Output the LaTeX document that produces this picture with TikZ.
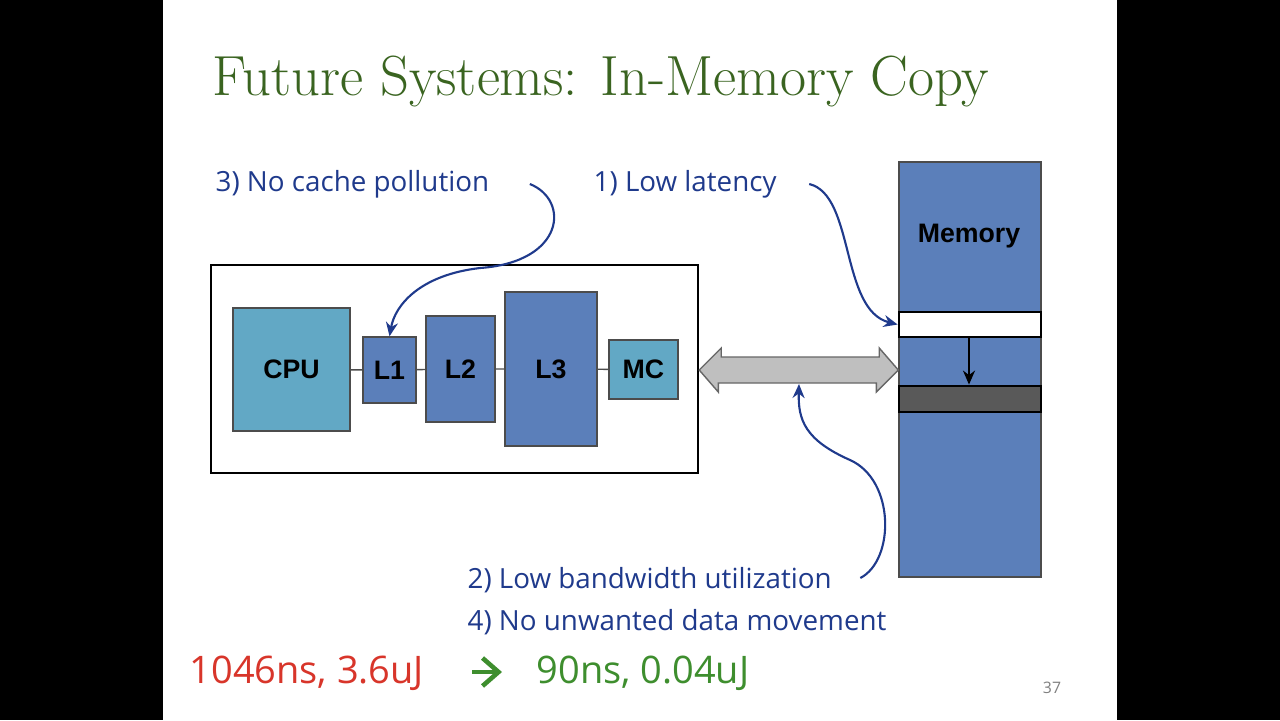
\documentclass[tikz,border=0pt]{standalone}
\usepackage{fontspec}
\newfontfamily\labelfont{Open Sans}
\newfontfamily\boxfont{Liberation Sans}
\usetikzlibrary{arrows.meta}
\definecolor{navy}{HTML}{1F3A8C}
\definecolor{teal}{HTML}{62A8C5}
\definecolor{memblue}{HTML}{5B7FBA}
\definecolor{titlegreen}{HTML}{3A6420}
\definecolor{cred}{HTML}{D8352A}
\definecolor{cgreen}{HTML}{3E8E2E}

\begin{document}
\begin{tikzpicture}[x=0.1mm, y=-0.1mm,
    unit/.style={draw=black!70, thin, font=\boxfont\bfseries\fontsize{7.6}{9}\selectfont, inner sep=0pt},
    note/.style={navy, font=\labelfont\fontsize{7.9}{9}\selectfont, anchor=west, inner sep=0pt},
    callout/.style={-{Stealth[length=1.4mm, width=1.2mm]}, navy, line width=0.6pt},
]
% slide and side bars
\fill[black] (0,0) rectangle (1280,720);
\fill[white] (163,0) rectangle (1117,720);

% title
\node[titlegreen, font=\fontsize{16.1}{18}\selectfont, anchor=base west, inner sep=0pt] (title) at (212,95) {Future Systems: In-Memory Copy};

% processor chip
\node[draw, line width=0.7pt, minimum width=48.7mm, minimum height=20.8mm, inner sep=0pt] (chip) at (454.5,369) {};
\node[unit, fill=teal, minimum width=11.7mm, minimum height=12.3mm] (cpu) at (291.5,369.5) {CPU};
\node[unit, fill=memblue, minimum width=5.3mm, minimum height=6.6mm] (l1) at (389.5,370) {L1};
\node[unit, fill=memblue, minimum width=6.9mm, minimum height=10.6mm] (l2) at (460.5,369) {L2};
\node[unit, fill=memblue, minimum width=9.2mm, minimum height=15.4mm] (l3) at (551,369) {L3};
\node[unit, fill=teal, minimum width=6.9mm, minimum height=5.9mm] (mc) at (643.5,369.5) {MC};
\draw[black!70, thin] (cpu) -- (l1) -- (l2) -- (l3) -- (mc);

% memory
\node[unit, fill=memblue, minimum width=14.2mm, minimum height=41.5mm] (mem) at (970,369.5) {};
\node[font=\boxfont\bfseries\fontsize{7.6}{9}\selectfont] (memlabel) at (969,236) {Memory};
\node[draw, line width=0.8pt, fill=white, minimum width=14.2mm, minimum height=2.5mm, inner sep=0pt] (src) at (970,324.5) {};
\node[draw, line width=0.8pt, fill=black!65, minimum width=14.2mm, minimum height=2.6mm, inner sep=0pt] (dst) at (970,399) {};
\draw[-{Stealth[length=1.4mm, width=1.2mm]}, line width=0.8pt] (src.south) ++(-1,0) coordinate (s1) -- (s1 |- dst.north);

% channel
\coordinate (bus) at (799,384);
\draw[black!60, fill=black!25] (chip.east |- 0,370) -- ++(22,-22) -- ++(0,9) -- ++(158,0) -- ++(0,-9)
  -- (mem.west |- 0,370) -- ++(-22,22) -- ++(0,-9) -- ++(-158,0) -- ++(0,9) -- cycle;

% notes
\node[note] (n3) at (215,184) {3) No cache pollution};
\node[note] (n1) at (593,184) {1) Low latency};
\node[note] (n2) at (467,580) {2) Low bandwidth utilization};
\node[note] (n4) at (467,622) {4) No unwanted data movement};

\draw[callout] (n3.east) ++(40,0) .. controls (570,200) and (565,262) .. (480,268) .. controls (420,275) and (395,305) .. (l1.north);
\draw[callout] (n1.east) ++(32,0) .. controls (855,195) and (840,310) .. (src.west);
\draw[callout] (n2.east) ++(28,-2) .. controls (895,560) and (895,480) .. (850,460) .. controls (805,440) and (798,420) .. (bus);

% costs
\node[cred, font=\labelfont\fontsize{10.8}{12}\selectfont, anchor=west, inner sep=0pt] (before) at (189,673) {1046ns, 3.6uJ};
\node[cgreen, font=\labelfont\fontsize{10.8}{12}\selectfont, anchor=west, inner sep=0pt] (after) at (536,673) {90ns, 0.04uJ};
\draw[cgreen, line width=1.3pt, -{Straight Barb[length=1.6mm, width=2.8mm]}] (472,672) -- (502,672);
\node[black!50, font=\labelfont\fontsize{4.5}{5}\selectfont] (page) at (1052,688) {37};
\end{tikzpicture}
\end{document}
